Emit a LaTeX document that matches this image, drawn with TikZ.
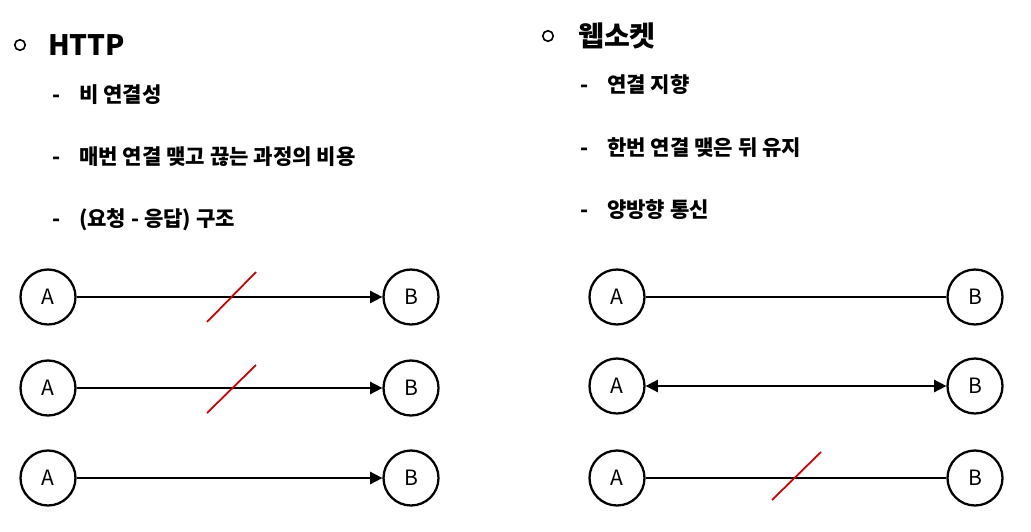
\documentclass[tikz,border=0pt]{standalone}
\usepackage{fontspec}
\setmainfont{Noto Sans CJK KR}
\newfontfamily\kr{Noto Sans CJK KR}
\usetikzlibrary{arrows.meta}
\begin{document}
\begin{tikzpicture}[x=0.02cm,y=-0.02cm]
	\tikzstyle{peer}=[draw,circle,line width=1.3pt,minimum size=1.1cm,inner sep=0pt,font=\kr\large]
	\tikzstyle{link}=[line width=1pt]
	\tikzstyle{cut}=[draw=red!80!black,line width=1pt]
	\tikzstyle{head}=[font=\kr\bfseries\fontsize{16}{20}\selectfont,anchor=west]
	\tikzstyle{item}=[font=\kr\bfseries\fontsize{12}{14}\selectfont,anchor=west]
	\useasboundingbox (0,0) rectangle (1031,531);
	% HTTP
	\node [draw,circle,line width=0.9pt,minimum size=6pt,inner sep=0pt] (b1) at (20,45) {};
	\node [head] (h1) at (42,45) {HTTP};
	\node [item] (i1) at (46,95) {-\enspace\, 비 연결성};
	\node [item] (i2) at (46,157) {-\enspace\, 매번 연결 맺고 끊는 과정의 비용};
	\node [item] (i3) at (46,220) {-\enspace\, (요청 - 응답) 구조};
	% websocket
	\node [draw,circle,line width=0.9pt,minimum size=6pt,inner sep=0pt] (b2) at (548,36) {};
	\node [head] (h2) at (572,36) {웹소켓};
	\node [item] (j1) at (574,85) {-\enspace\, 연결 지향};
	\node [item] (j2) at (574,148) {-\enspace\, 한번 연결 맺은 뒤 유지};
	\node [item] (j3) at (574,210) {-\enspace\, 양방향 통신};
	% HTTP peers
	\foreach \n/\y in {1/297,2/388,3/478} {
		\node [peer] (ha\n) at (48,\y) {A};
		\node [peer] (hb\n) at (411,\y) {B};
		\draw [link,-{Triangle[length=7pt,width=7pt]}] (ha\n) -- (hb\n);
	}
	\draw [cut] (207,322) -- (256,272);
	\draw [cut] (207,413) -- (256,365);
	% websocket peers
	\foreach \n/\y in {1/297,2/386,3/478} {
		\node [peer] (wa\n) at (617,\y) {A};
		\node [peer] (wb\n) at (975,\y) {B};
	}
	\draw [link] (wa1) -- (wb1);
	\draw [link,{Triangle[length=7pt,width=7pt]}-{Triangle[length=7pt,width=7pt]}] (wa2) -- (wb2);
	\draw [link] (wa3) -- (wb3);
	\draw [cut] (772,500) -- (821,452);
\end{tikzpicture}
\end{document}
